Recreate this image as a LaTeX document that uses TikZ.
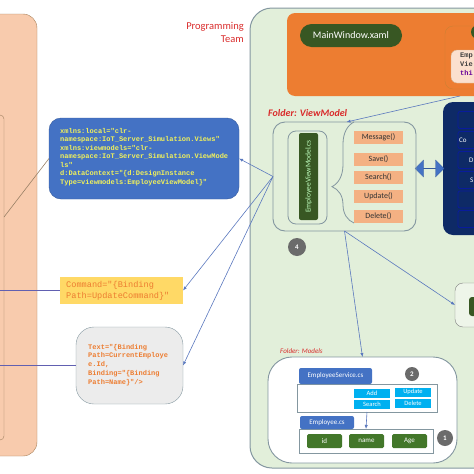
\documentclass[tikz,border=0pt]{standalone}
\usepackage{fontspec}
\setmainfont{Carlito}
\setmonofont{Liberation Mono}
\usetikzlibrary{arrows.meta,shapes.arrows,decorations.pathreplacing}
\definecolor{peach}{HTML}{F8CBAD}
\definecolor{panelgreen}{HTML}{E2EFDA}
\definecolor{officeorange}{HTML}{ED7D31}
\definecolor{darkgreen}{HTML}{385723}
\definecolor{officeblue}{HTML}{4472C4}
\definecolor{navy}{HTML}{0E2A66}
\definecolor{methodpeach}{HTML}{F4B183}
\definecolor{cmdyellow}{HTML}{FFD966}
\definecolor{linkblue}{HTML}{5A78BE}
\definecolor{edgegray}{HTML}{8497A0}
\definecolor{teamred}{HTML}{D92B2B}
\definecolor{badgegray}{HTML}{6B6B6B}
\definecolor{btncyan}{HTML}{00B0F0}
\definecolor{fieldgreen}{HTML}{43772A}
\definecolor{codeyellow}{HTML}{F2F25A}
\newcommand\fsize[2]{\fontsize{#1}{#2}\selectfont}
\tikzset{
  box/.style={inner sep=0pt, outer sep=0pt},
  method/.style={box, fill=methodpeach, minimum width=49pt, minimum height=13pt,
    font=\fsize{8}{8}, text=black!80},
  badge/.style={circle, fill=badgegray, text=white, inner sep=0pt,
    font=\bfseries\fsize{7}{7}},
  tab/.style={box, fill=officeblue, rounded corners=2pt, text=white, font=\fsize{7}{7}},
  btn/.style={box, fill=btncyan, minimum width=36pt, minimum height=9pt,
    text=white, font=\fsize{6.5}{7}},
  field/.style={box, fill=fieldgreen, rounded corners=1.5pt, minimum width=35pt,
    minimum height=14pt, text=white, font=\fsize{7}{7}},
  link/.style={linkblue, line width=0.6pt, -{Latex[length=4pt,width=3.2pt]}},
  hline/.style={linkblue!80!violet, line width=0.6pt},
}
\begin{document}
\begin{tikzpicture}[x=1pt, y=-1pt]
  \useasboundingbox (0,0) rectangle (474,474);
  % view side panel, cut by the page edge
  \node[box, draw=brown!60!gray, fill=peach, rounded corners=14pt,
    minimum width=57pt, minimum height=442pt] (viewpanel) at (8.5,235) {};
  \node[box, draw=brown!50!gray, rounded corners=4pt,
    minimum width=24pt, minimum height=325pt] (viewinner) at (-8,277.5) {};
  \node[font=\fsize{10.5}{13}, text=teamred, align=right, anchor=north east, inner sep=0pt]
    (team) at (244,22) {Programming\\Team};
  % programming team panel
  \node[box, draw=edgegray, line width=1pt, fill=panelgreen, rounded corners=22pt,
    minimum width=250pt, minimum height=460pt] (teampanel) at (375,238) {};
  % MainWindow.xaml
  \node[box, fill=officeorange, rounded corners=8pt,
    minimum width=213pt, minimum height=83pt] (mainarea) at (393.5,54.5) {};
  \node[box, fill=darkgreen, rounded corners=11.5pt, minimum width=102pt, minimum height=23pt,
    text=white, font=\fsize{10}{10}] (mainwin) at (351,35.5) {MainWindow.xaml};
  \node[box, draw=brown!80!orange, fill=officeorange, rounded corners=8pt,
    minimum width=60pt, minimum height=63pt] (ctorbox) at (475,57.5) {};
  \node[box, fill=darkgreen, rounded corners=7pt,
    minimum width=40pt, minimum height=14pt] (ctortab) at (491,32) {};
  \node[box, draw=brown!60, fill=peach!60, rounded corners=6pt,
    minimum width=60pt, minimum height=33pt] (ctorcode) at (481,66.5) {};
  \node[font=\ttfamily\bfseries\fsize{7}{9}, text=black!75, align=left, anchor=north west,
    inner sep=0pt] (ctortext) at (460,53) {Emp\\Vie\\\textcolor{violet!80!blue}{thi}};
  % data panel on the right
  \node[box, fill=navy, rounded corners=10pt,
    minimum width=77pt, minimum height=133pt] (datapanel) at (481.5,168.5) {};
  \foreach \y/\tx/\t [count=\i] in {120/459/{},140/459/Co,160/469/D,180/470/S,199.5/459/{},219/459/{}} {
    \node[box, draw=blue!35!navy, line width=0.8pt, rounded corners=2pt,
      minimum width=82pt, minimum height=17pt] (row\i) at (499,\y) {};
    \node[text=white, font=\fsize{7}{7}, anchor=west, inner sep=0pt] (rowtext\i) at (\tx,\y) {\t};
  }
  \node[double arrow, fill=officeblue, draw=officeblue!80!black, line width=0.3pt,
    minimum height=29pt, minimum width=17pt, double arrow head extend=4.5pt,
    inner sep=0pt] (sync) at (429.5,168.5) {};
  % folder: view model
  \node[font=\bfseries\itshape\fsize{10}{10}, text=teamred, anchor=base west, inner sep=0pt]
    (vmlabel) at (268,116) {Folder: ViewModel};
  \node[box, draw=edgegray, line width=0.9pt, rounded corners=12pt,
    minimum width=143pt, minimum height=109pt] (vmbox) at (344.5,176.5) {};
  \node[box, draw=edgegray, line width=0.8pt, rounded corners=8pt,
    minimum width=39pt, minimum height=93pt] (vminner) at (307.5,177.5) {};
  \node[box, fill=darkgreen, rounded corners=2pt, minimum width=87pt, minimum height=19pt,
    rotate=90, text=green!25, font=\fsize{7.5}{8}] (vmfile) at (308.5,176.5) {EmployeeViewModel.cs};
  \draw[edgegray, line width=0.8pt, decorate,
    decoration={brace, amplitude=22pt, aspect=0.36}] (354,223) -- (354,122);
  \foreach \y/\t [count=\i] in {137.5/{Message()},159.5/{Save()},177.5/{Search()},196.5/{Update()},216.5/{Delete()}}
    \node[method] (method\i) at (378.5,\y) {\t};
  \node[badge, minimum size=18pt] (badgefour) at (297,247) {4};
  % xaml code boxes
  \node[box, fill=officeblue, draw=officeblue!80!black, rounded corners=12pt,
    minimum width=190pt, minimum height=81pt] (xmlnsbox) at (144,158.5) {};
  \node[font=\ttfamily\bfseries\fsize{7}{8.5}, text=codeyellow, align=left, anchor=north west,
    inner sep=0pt] (xmlnstext) at (60,128) {xmlns:local="clr-\\namespace:IoT\_Server\_Simulation.Views"\\xmlns:viewmodels="clr-\\namespace:IoT\_Server\_Simulation.ViewMode\\ls"\\d:DataContext="\{d:DesignInstance\\Type=viewmodels:EmployeeViewModel\}"};
  \node[box, fill=cmdyellow, minimum width=123pt, minimum height=27pt] (cmdbox) at (121.5,290.5) {};
  \node[font=\ttfamily\fsize{8.6}{11}, text=officeorange, align=left, anchor=north west,
    inner sep=0pt] (cmdtext) at (66,281) {Command="\{Binding\\Path=UpdateCommand\}"};
  \node[box, fill=gray!15, draw=edgegray, rounded corners=18pt,
    minimum width=107pt, minimum height=77pt] (bindbox) at (129.5,365.5) {};
  \node[font=\ttfamily\bfseries\fsize{7}{8.7}, text=officeorange, align=left, anchor=north west,
    inner sep=0pt] (bindtext) at (88,344) {Text="\{Binding\\Path=CurrentEmploye\\e.Id,\\Binding="\{Binding\\Path=Name\}"/>};
  % service box on the right
  \node[box, draw=gray, fill=panelgreen!60!white, rounded corners=8pt,
    minimum width=75pt, minimum height=44pt] (servicebox) at (492.5,305) {};
  \node[box, fill=darkgreen, rounded corners=3pt,
    minimum width=50pt, minimum height=19pt] (servicetab) at (494,306.5) {};
  % folder: models
  \node[font=\itshape\fsize{7}{7}, text=teamred, anchor=base west, inner sep=0pt]
    (mlabel) at (280,353) {Folder: Models};
  \node[box, draw=edgegray, line width=0.9pt, fill=white, rounded corners=24pt,
    minimum width=189pt, minimum height=106pt] (modelbox) at (362.5,410) {};
  \node[box, draw=edgegray, fill=white, minimum width=140pt, minimum height=28pt] (svcbody) at (367,398) {};
  \node[tab, minimum width=73pt, minimum height=16pt] (svctab) at (335.5,376) {EmployeeService.cs};
  \node[badge, minimum size=14pt] (badgetwo) at (412,374) {2};
  \node[btn] (btnadd) at (372,393) {Add};
  \node[btn] (btnupdate) at (413,392) {Update};
  \node[btn] (btnsearch) at (372,404) {Search};
  \node[btn] (btndelete) at (413,403.5) {Delete};
  \node[box, draw=edgegray, fill=white, minimum width=134pt, minimum height=24pt] (empbody) at (366,441) {};
  \node[tab, minimum width=54pt, minimum height=13pt] (emptab) at (327,422.5) {Employee.cs};
  \foreach \x/\t in {324.5/id,366.5/name,409.5/Age}
    \node[field] (field\t) at (\x,441) {\t};
  \node[badge, minimum size=16pt] (badgeone) at (445,438) {1};
  % connectors
  \coordinate (innerlink) at (4,217);
  \coordinate (cmdsrc) at (-5,290.5);
  \coordinate (bindsrc) at (-5,365.5);
  \coordinate (vmsrc) at (460,96);
  \draw[brown!40!gray, line width=0.6pt] (innerlink) -- (xmlnsbox.west);
  \draw[hline] (cmdsrc) -- (cmdbox.west);
  \draw[hline] (bindsrc) -- (bindbox.west);
  \draw[link] (vmbox.west) -- (xmlnsbox.east);
  \draw[link] (vmbox.west) -- (cmdbox.east);
  \draw[link] (vmbox.west) -- (bindbox.east);
  \draw[link] (vmsrc) -- ([xshift=2pt]vmbox.north);
  \draw[link] (vmbox.south) -- (modelbox.north);
  \draw[link] (vmbox.south) -- (servicebox.west);
  \draw[link] (svcbody.south) -- (empbody.north);
\end{tikzpicture}
\end{document}
